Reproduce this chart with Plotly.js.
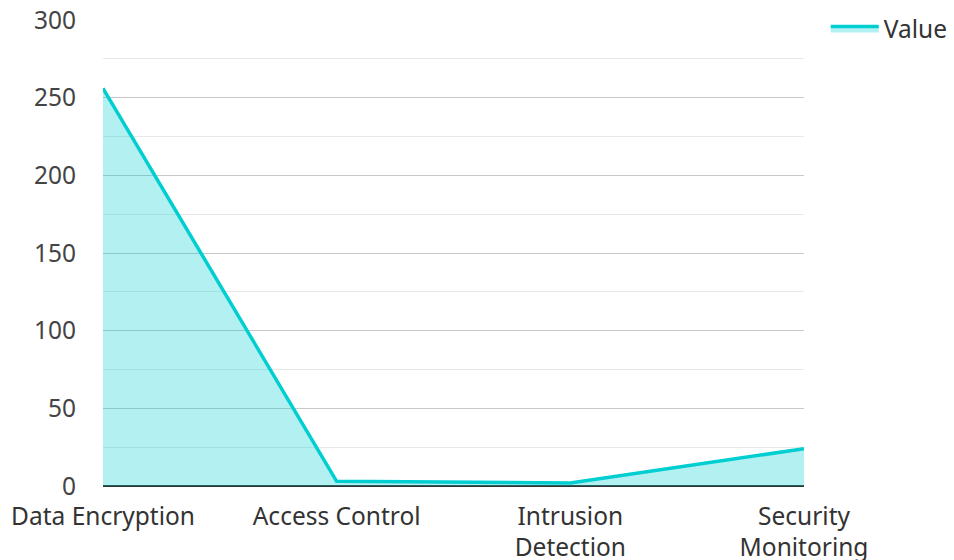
<!DOCTYPE html>
<html>
<head>
<meta charset="utf-8">
<script src="https://cdn.plot.ly/plotly-3.0.1.min.js"></script>
<style>html,body{margin:0;padding:0;background:#fff;}#chart{width:954px;height:560px;}</style>
</head>
<body>
<div id="chart"></div>
<script>
const categories = ["Data Encryption", "Access Control", "Intrusion<br>Detection", "Security<br>Monitoring"];
const values = [256, 3, 2, 24];
const seriesName = "Value";

const trace = {
  x: categories,
  y: values,
  type: "scatter",
  mode: "lines",
  name: seriesName,
  fill: "tozeroy",
  fillcolor: "rgba(0,206,209,0.3)",
  line: {color: "#00CED1", width: 3.5}
};

const layout = {
  width: 954,
  height: 560,
  margin: {l: 103, r: 150, t: 20, b: 74, autoexpand: false},
  paper_bgcolor: "#fff",
  plot_bgcolor: "#fff",
  font: {family: "Noto Sans, Open Sans, sans-serif", size: 24.5, color: "#333"},
  showlegend: true,
  legend: {x: 1.031, y: 1.03, xanchor: "left", yanchor: "top", itemwidth: 48, font: {size: 24.5, color: "#333"}},
  xaxis: {
    type: "category",
    range: [0, 3],
    showgrid: false,
    zeroline: false,
    showline: false,
    ticks: "",
    ticklabelstandoff: 13,
    tickfont: {size: 24.5, color: "#333"}
  },
  yaxis: {
    range: [0, 300],
    dtick: 50,
    showgrid: true,
    gridcolor: "#c8c8c8",
    gridwidth: 1,
    minor: {dtick: 25, showgrid: true, gridcolor: "#e8e8e8", gridwidth: 1},
    zeroline: true,
    zerolinecolor: "#333",
    zerolinewidth: 2,
    ticks: "",
    ticklen: 0,
    ticklabelstandoff: 26,
    tickfont: {size: 24.5, color: "#444"},
    automargin: false
  }
};

Plotly.newPlot("chart", [trace], layout, {displayModeBar: false, staticPlot: true});
</script>
</body>
</html>
